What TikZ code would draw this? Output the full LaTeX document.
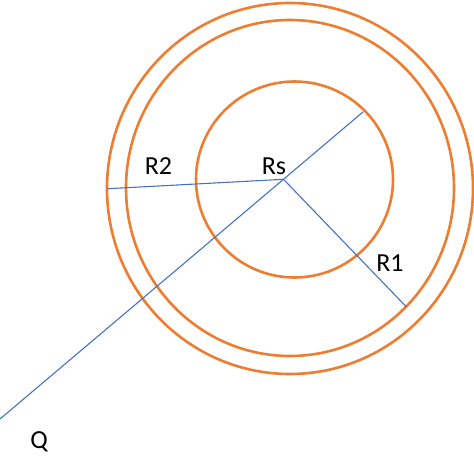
\documentclass[tikz,border=0pt]{standalone}
\usepackage{fontspec}
\setmainfont{Carlito}
\usepackage{tikz}

\definecolor{ringorange}{RGB}{237,125,49}
\definecolor{lineblue}{RGB}{68,114,196}

\begin{document}
\begin{tikzpicture}[
  x=1pt, y=-1pt,
  ring/.style={draw=ringorange, line width=2.6pt}, % orange circles
  ray/.style={draw=lineblue, line width=1.1pt},
  lbl/.style={font=\fontsize{26}{30}\selectfont, inner sep=0pt, anchor=base}
]
  \useasboundingbox (0,0) rectangle (474,463);

  % the three rings
  \draw[ring] (290,188.5) ellipse [x radius=183, y radius=185.5];
  \draw[ring] (290,188) ellipse [x radius=164, y radius=168];
  \draw[ring] (294.5,179.5) ellipse [x radius=98.5, y radius=98];

  % points
  \coordinate (rs) at (283.5,179.3);
  \coordinate (qend) at (0,419);
  \coordinate (topend) at (363.3,111.7);
  \coordinate (r2end) at (108,188.7);
  \coordinate (r1end) at (406,306.5);

  \draw[ray] (qend) -- (rs) -- (topend);
  \draw[ray] (rs) -- (r2end);
  \draw[ray] (rs) -- (r1end);

  % labels
  \node[lbl] (r2) at (158.5,174.3) {R2};
  \node[lbl] (rslbl) at (274,174.3) {Rs};
  \node[lbl] (r1) at (390,271.7) {R1};
  \node[lbl] (q) at (39,448) {Q};
\end{tikzpicture}
\end{document}
